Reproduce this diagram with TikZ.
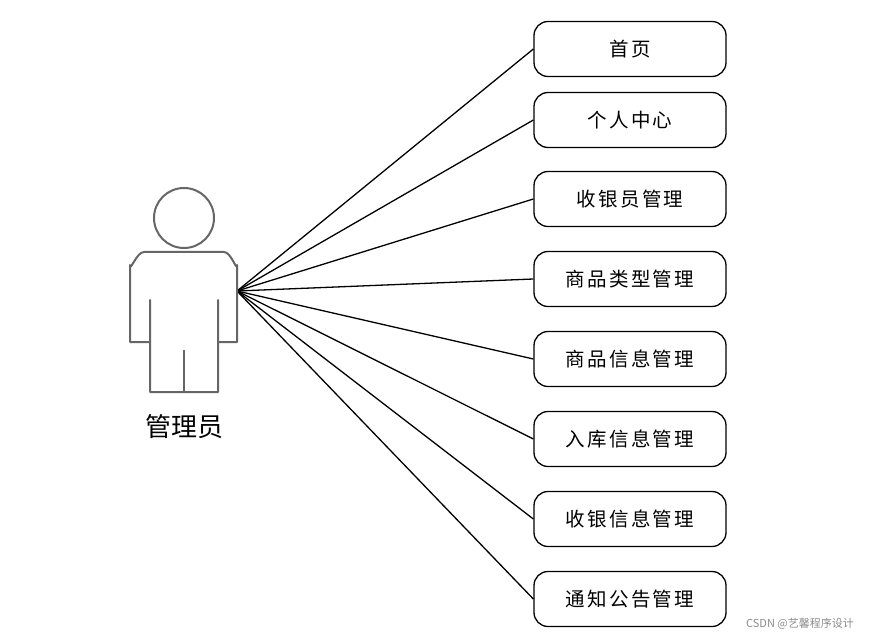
\documentclass[tikz,border=0pt]{standalone}
\usepackage{fontspec}
\newfontfamily\cjk{Noto Sans CJK SC}
\newfontfamily\cjksp[LetterSpace=12]{Noto Sans CJK SC}
\begin{document}
\begin{tikzpicture}[x=1pt,y=-1pt,
  uc/.style={draw,line width=1.3pt,rounded corners=14pt,minimum width=192pt,minimum height=55pt,font=\cjksp\fontsize{19.5}{22}\selectfont},
  act/.style={draw=black!60,line width=2pt,line join=round},
  link/.style={line width=1.3pt}]
\useasboundingbox (0,0) rectangle (881,639);
\coordinate (h) at (237,291);
\foreach \n/\y/\t in {a/49/首页,b/120/个人中心,c/199/收银员管理,d/279/商品类型管理,e/359/商品信息管理,f/439/入库信息管理,g/519/收银信息管理,k/599/通知公告管理}{
  \node[uc] (\n) at (630,\y) {\t};
  \draw[link] (h) -- (\n.west);
}
\draw[act] (184,218) circle (30);
\draw[act] (150,392) -- (150,300) -- (150,342) -- (130,342) -- (130,265) to[out=-90,in=180] (144,252) -- (224,252) to[out=0,in=-90] (237,265) -- (237,342) -- (218,342) -- (218,300) -- (218,392) -- cycle;
\draw[act] (184,350) -- (184,392);
\node[font=\cjk\fontsize{26}{30}\selectfont] (lab) at (184,427) {管理员};
\node[font=\cjk\fontsize{11}{13}\selectfont,text=black!45] (wm) at (800,624) {CSDN @艺馨程序设计};
\end{tikzpicture}
\end{document}
